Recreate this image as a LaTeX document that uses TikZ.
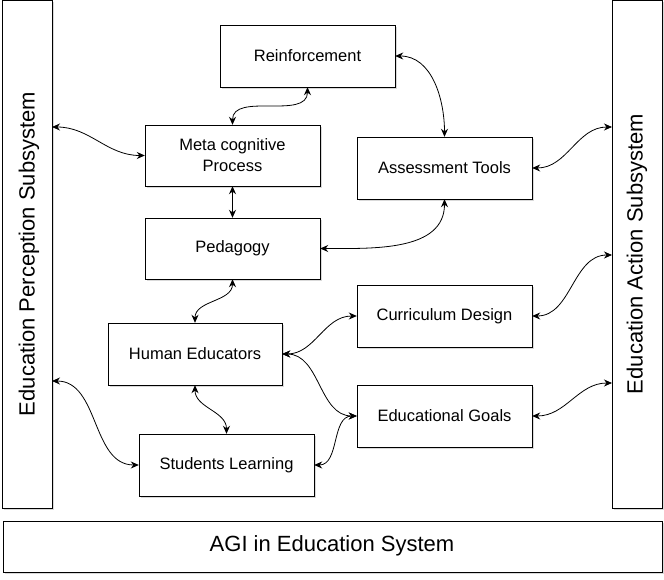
\documentclass[tikz,border=0pt]{standalone}
\usepackage{fontspec}
\setmainfont{Liberation Sans}
\usetikzlibrary{shadows,arrows.meta}
\begin{document}
\begin{tikzpicture}[x=1pt,y=-1pt,
  box/.style={draw,thick,fill=white,drop shadow={shadow xshift=2pt,shadow yshift=-2pt,opacity=0.3}},
  con/.style={thick,{Stealth[length=8pt,width=7pt]}-{Stealth[length=8pt,width=7pt]}}]
\useasboundingbox (0,0) rectangle (664,580);
\newcommand{\bx}[6]{\path[box] (#2,#3) rectangle (#4,#5); \node[font=\fontsize{16.5}{21}\selectfont,align=center] (#1) at ({(#2+#4)/2},{(#3+#5)/2}) [minimum width={#4-#2},minimum height={#5-#3},inner sep=0pt] {#6};}
\bx{lb}{2}{0}{52}{508}{}
\bx{rb}{612}{0}{662}{508}{}
\node[rotate=90,font=\fontsize{22}{26}\selectfont] at (29,254) {Education Perception Subsystem};
\node[rotate=90,font=\fontsize{22}{26}\selectfont] at (637,254) {Education Action Subsystem};
\path[box] (3,521) rectangle (662,572);
\node[font=\fontsize{22}{26}\selectfont] (agi) at (332,546) {AGI in Education System};
\bx{re}{220}{25}{395}{87}{Reinforcement}
\bx{me}{145}{125}{320}{186}{Meta cognitive\\Process}
\bx{as}{357}{137}{532}{199}{Assessment Tools}
\bx{pe}{145}{218}{320}{279}{Pedagogy}
\bx{cu}{357}{285}{532}{347}{Curriculum Design}
\bx{hu}{108}{323}{282}{385}{Human Educators}
\bx{go}{357}{385}{532}{447}{Educational Goals}
\bx{st}{139}{434}{314}{496}{Students Learning}
\coordinate (l1) at (52,127); \coordinate (l2) at (52,381);
\coordinate (r1) at (612,127); \coordinate (r2) at (612,255); \coordinate (r3) at (612,383);
\draw[con] (l1) to[out=0,in=180] (me.west);
\draw[con] (re.south) to[out=-90,in=90] (me.north);
\draw[con] (re.east) to[out=0,in=90] (as.north);
\draw[con] (r1) to[out=180,in=0] (as.east);
\draw[con] (me.south) -- (pe.north);
\draw[con] (pe.east) to[out=0,in=-90] (as.south);
\draw[con] (pe.south) to[out=-90,in=90] (hu.north);
\draw[con] (r2) to[out=180,in=0] (cu.east);
\draw[con] (hu.east) to[out=0,in=180] (cu.west);
\draw[con] (hu.east) to[out=0,in=180] (go.west);
\draw[con] (r3) to[out=180,in=0] (go.east);
\draw[con] (l2) to[out=0,in=180] (st.west);
\draw[con] (hu.south) to[out=-90,in=90] (st.north);
\draw[con] (st.east) to[out=0,in=180] (go.west);
\end{tikzpicture}
\end{document}
